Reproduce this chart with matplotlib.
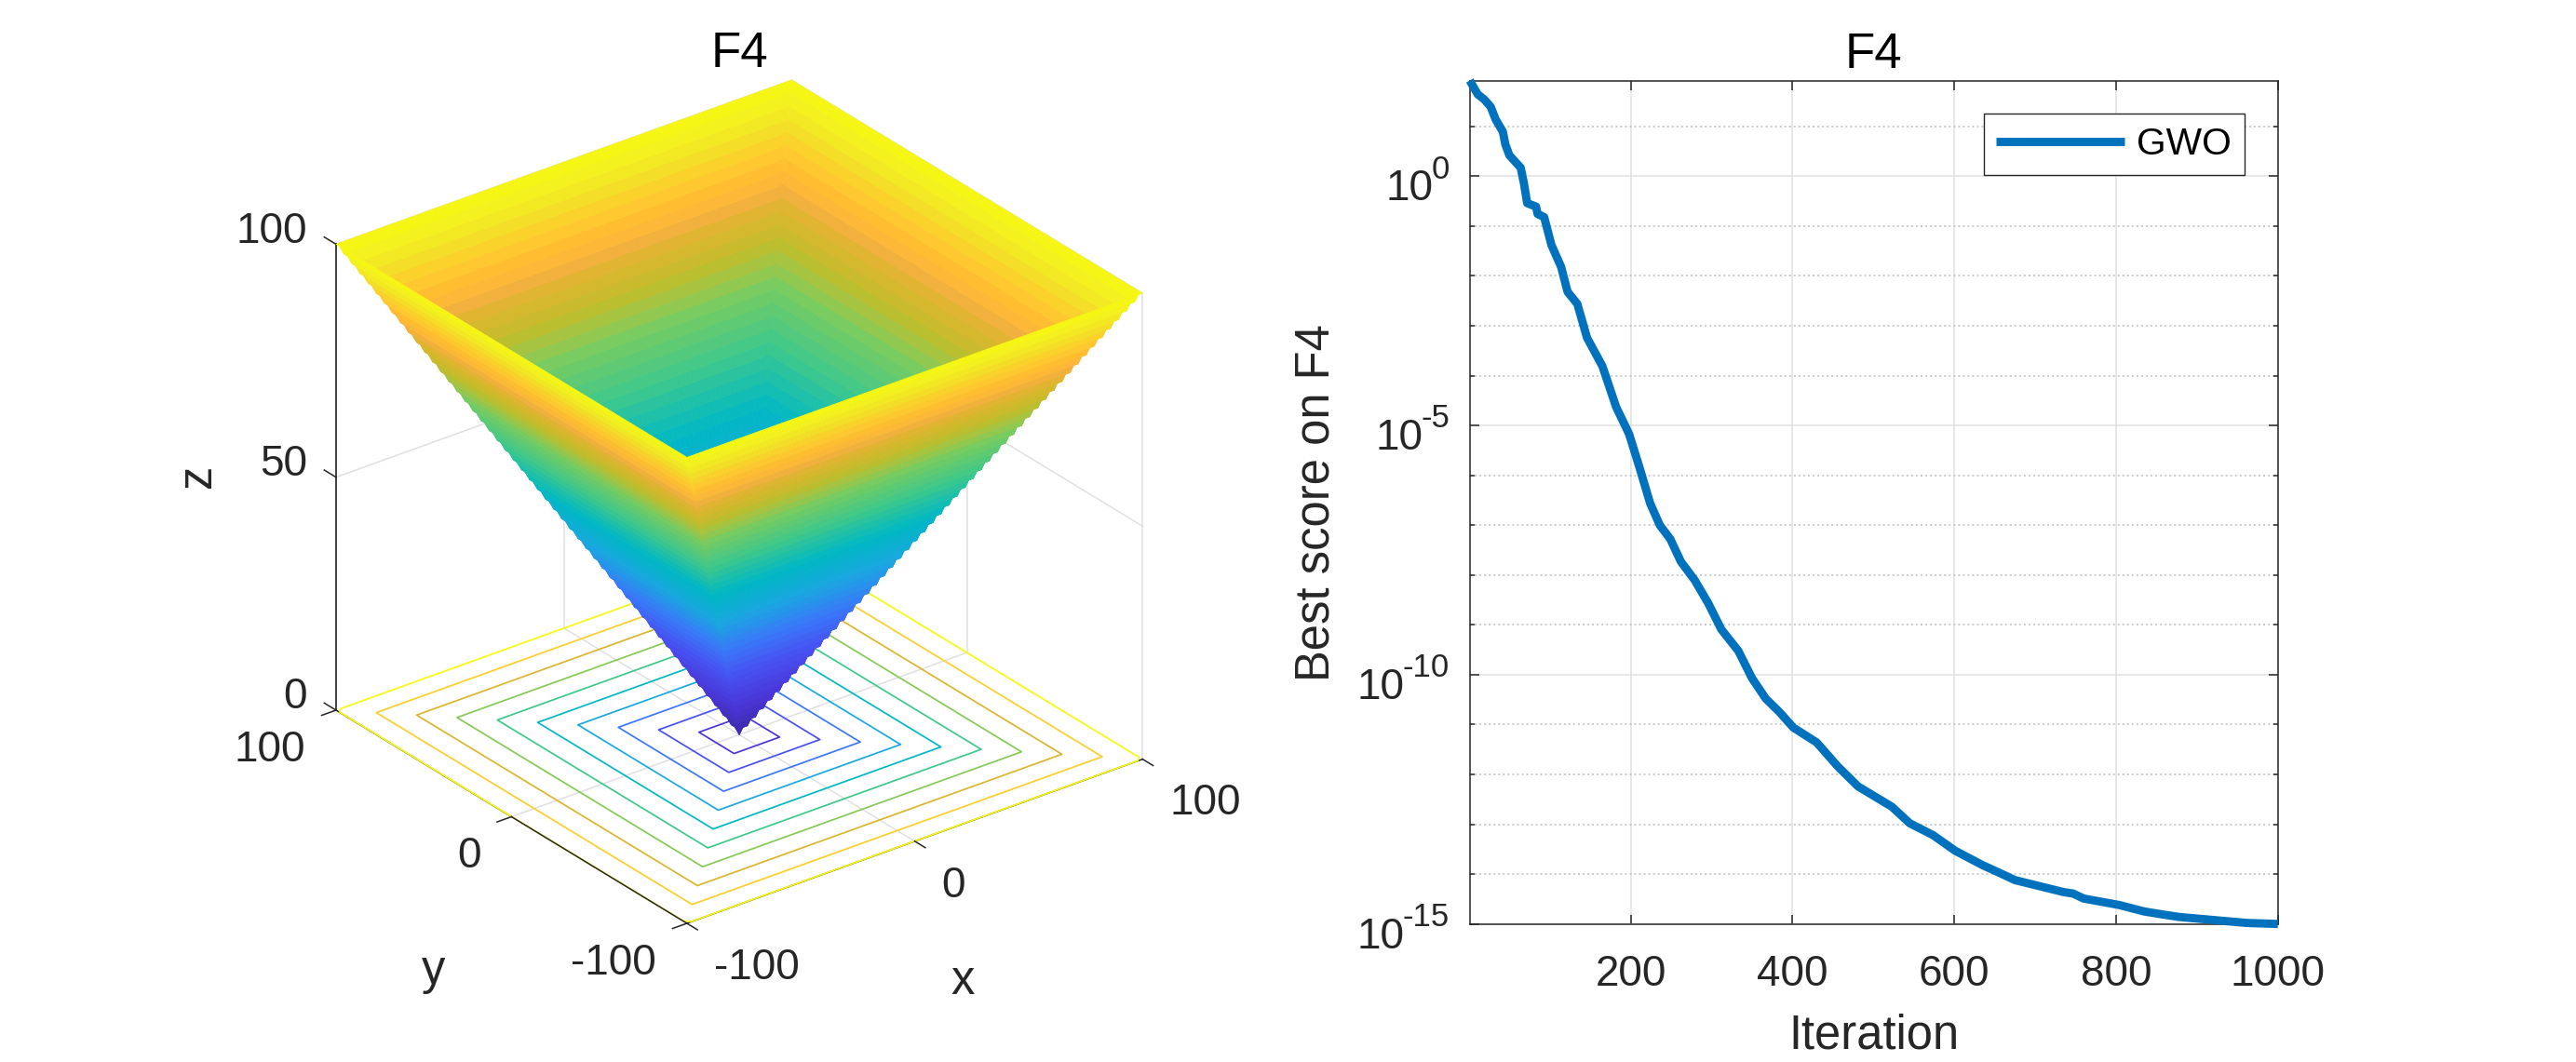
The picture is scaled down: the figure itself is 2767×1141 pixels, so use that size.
#!/usr/bin/env python

import numpy as np
import matplotlib
matplotlib.use("Agg")
import matplotlib.pyplot as plt
from matplotlib.colors import LinearSegmentedColormap
from mpl_toolkits.mplot3d import proj3d

W, H = 2767, 1141
DARK = "#262626"
GRID = "#e0e0e0"

# convergence curve
iterations = [1, 11, 19, 27, 33, 42, 45, 50, 64, 68, 72, 83, 85, 93, 102, 114, 122, 134,
	146, 165, 182, 198, 211, 224, 236, 249, 262, 279, 296, 312, 333, 350, 367, 384, 401,
	430, 456, 481, 523, 545, 574, 601, 635, 658, 675, 705, 735, 747, 760, 804, 835, 858,
	878, 927, 962, 1000]
log_scores = [1.92, 1.64, 1.54, 1.39, 1.14, 0.89, 0.64, 0.42, 0.17, -0.14, -0.54, -0.61, -0.76, -0.82, -1.38, -1.82, -2.32, -2.56,
	-3.24, -3.81, -4.63, -5.17, -5.85, -6.56, -7.0, -7.28, -7.73, -8.1, -8.57, -9.09, -9.52, -10.07, -10.48, -10.75, -11.06,
	-11.36, -11.84, -12.24, -12.65, -12.98, -13.22, -13.53, -13.82, -13.99, -14.12, -14.24, -14.36, -14.39, -14.49, -14.62, -14.75, -14.81,
	-14.86, -14.93, -14.98, -15.0]

x_ticks = [200, 400, 600, 800, 1000]
y_major_exponents = [-15, -10, -5, 0]
y_minor = [10.0 ** p for p in range(-14, 2) if p % 5 != 0]

# surface axes
surf_ticks = [-100, 0, 100]
z_ticks = [0, 50, 100]
contour_levels = [10, 20, 30, 40, 50, 60, 70, 80, 90, 99.9]

cmap_nodes = [0.0, 0.1, 0.2, 0.3, 0.4, 0.5, 0.6, 0.69, 0.71, 0.73, 0.75, 0.77, 0.79, 0.81, 0.83, 0.85, 0.87, 0.89, 0.91, 0.93, 0.95, 0.97, 0.99, 1.0]
cmap_colors = ["#3c2aa8", "#4a36d8", "#4850f0", "#3a78fa", "#1aa8e0", "#00b8c4",
	"#3dc88c", "#78cc60", "#90c850", "#a8c440", "#b8c030", "#c8bc2c", "#d4b82c", "#e0b430",
	"#f0b03c", "#fdb838", "#ffbe30", "#ffc830", "#fad22a", "#f5dc28", "#f3e824", "#f4f020",
	"#f6f616", "#f8f810"]


def px(x, y):
	return x / W, 1 - y / H


def draw_surface(fig):
	cm = LinearSegmentedColormap.from_list("parula_ish", list(zip(cmap_nodes, cmap_colors)))
	# mplot3d keeps its 2d limits at (-0.095, 0.09), so the box centre is off the axes centre
	side = 1010.8
	cx, cy = 794.1, 539
	origin = 0.095 / 0.185
	left = cx - side * origin
	bottom = cy + side * origin
	ax = fig.add_axes([left / W, 1 - bottom / H, side / W, side / H], projection="3d", computed_zorder=False)
	ax.set_proj_type("ortho")
	ax.set_box_aspect((1, 1, 0.917))
	ax.view_init(elev=27.9, azim=-127.6)
	ax.set_xlim(-100, 100, view_margin=0)
	ax.set_ylim(-100, 100, view_margin=0)
	ax.set_zlim(0, 100, view_margin=0)
	ax.set_axis_off()
	for axis in (ax.xaxis, ax.yaxis, ax.zaxis):
		axis.set_visible(False)

	def gray(xs, ys, zs, lw=1.1):
		ax.plot(xs, ys, zs, color=GRID, lw=lw, zorder=1)

	def label(x, y, z, s, ha):
		u, v, _ = proj3d.proj_transform(x, y, z, ax.get_proj())
		ax.text2D(u, v, s, transform=ax.transData, ha=ha, va="center", fontsize=33, color=DARK)

	# back grid, floor grid and box edges
	gray([0, 0], [-100, 100], [0, 0])
	gray([-100, 100], [0, 0], [0, 0])
	gray([-100, 100], [100, 100], [50, 50])
	gray([100, 100], [100, -100], [50, 50])
	gray([0, 0], [100, 100], [0, 100])
	gray([100, 100], [0, 0], [0, 100])
	gray([100, 100], [-100, -100], [0, 100])
	gray([-100, 100], [100, 100], [100, 100], 1.0)
	gray([100, 100], [100, -100], [100, 100], 1.0)

	# axis lines
	ax.plot([-100, -100], [100, 100], [0, 100], color="#404040", lw=1.4, zorder=1.5)
	ax.plot([-100, 100], [-100, -100], [0, 0], color=DARK, lw=1.1, zorder=1.5)
	ax.plot([-100, -100], [0, 100], [0, 0], color=DARK, lw=1.1, zorder=1.5)
	ax.plot([-100, -100], [-100, 0], [0, 0], color=DARK, lw=1.1, zorder=2.5)

	# ticks and their labels
	for v in surf_ticks:
		ax.plot([v, v], [-100, -106], [0, 0], color=DARK, lw=1.1, zorder=2.5)
		ax.plot([-100, -106.3], [v, v], [0, 0], color=DARK, lw=1.1, zorder=2.5)
		label(v, -115.4, -6, str(v), "left")
		label(-113.5, v, -6.2, str(v), "right")
	for v in z_ticks:
		ax.plot([-100, -100], [100, 106.7], [v, v], color=DARK, lw=1.1, zorder=2.5)
		label(-100, 116.3, v - 1, str(v), "right")

	# F4 is max(|x|, |y|) on the square, the 2 unit mesh gives the bands and the jagged edges
	grid = np.arange(-100, 102, 2)
	X, Y = np.meshgrid(grid, grid)
	Z = np.maximum(np.abs(X), np.abs(Y))
	ax.contour(X, Y, Z, levels=contour_levels, zdir="z", offset=0,
		cmap=cm, vmin=0, vmax=100, linewidths=1.25, zorder=2)
	surf = ax.plot_surface(X, Y, Z, cmap=cm, vmin=0, vmax=100, rstride=1, cstride=1,
		linewidth=0.5, antialiased=True, shade=False, zorder=3)
	surf.set_edgecolor("face")

	x, y = px(794, 71.7)
	fig.text(x, y, "F4", ha="center", va="baseline", fontsize=38, color="black")
	x, y = px(1034, 1055)
	fig.text(x, y, "x", ha="center", va="center", fontsize=36.5, color=DARK)
	x, y = px(466, 1044)
	fig.text(x, y, "y", ha="center", va="center", fontsize=36.5, color=DARK)
	x, y = px(212, 511)
	fig.text(x, y, "z", ha="center", va="center", rotation=90, fontsize=36.5, color=DARK)


def draw_log_labels(fig, ax):
	# the exponents are bigger and use a plain hyphen in the original, mathtext can't do that
	renderer = fig.canvas.get_renderer()
	trans = ("axes fraction", "data")
	for e in y_major_exponents:
		t = ax.annotate(str(e), xy=(0, 10.0 ** e), xycoords=trans, xytext=(-15.6, -1.7), textcoords="offset points",
			ha="right", va="baseline", fontsize=25, color=DARK, annotation_clip=False)
		width = t.get_window_extent(renderer).width * 72 / fig.dpi
		ax.annotate("10", xy=(0, 10.0 ** e), xycoords=trans, xytext=(-15.6 - width + 1.5, -18.7), textcoords="offset points",
			ha="right", va="baseline", fontsize=33, color=DARK, annotation_clip=False)


def draw_curve(fig):
	ax = fig.add_axes([1578.7 / W, (H - 992.7) / H, 868 / W, 906 / H])
	scores = [10.0 ** v for v in log_scores]
	ax.plot(iterations, scores, color="#0072bd", lw=6.4, label="GWO", clip_on=False, zorder=5,
		solid_joinstyle="round", solid_capstyle="butt")
	ax.set_yscale("log")
	ax.set_xlim(1, 1000)
	ax.set_ylim(1e-15, 82.4)
	ax.set_xticks(x_ticks)
	ax.set_yticks([10.0 ** e for e in y_major_exponents], [""] * len(y_major_exponents))
	ax.set_yticks(y_minor, minor=True)
	ax.set_yticklabels([], minor=True)
	ax.tick_params(axis="both", which="major", direction="in", top=True, right=True, length=7.2, width=1.1,
		color=DARK, labelcolor=DARK, labelsize=33, pad=23)
	ax.tick_params(axis="y", which="minor", direction="in", left=True, right=True, length=3.6, width=1.1, color=DARK)
	ax.grid(which="major", color=GRID, lw=1.1)
	ax.grid(which="minor", axis="y", color="#bdbdbd", lw=1.1, linestyle=(0, (1.3, 2)))
	ax.set_axisbelow(True)
	for s in ax.spines.values():
		s.set_linewidth(1.1)
		s.set_color(DARK)
	ax.set_title("F4", fontsize=38, color="black", pad=10)
	ax.set_xlabel("Iteration", fontsize=36.5, color=DARK, labelpad=14)
	ax.set_ylabel("Best score on F4", fontsize=36.5, color=DARK)
	ax.yaxis.set_label_coords(-0.161, 0.5)
	leg = ax.legend(loc="upper right", bbox_to_anchor=(0.9589, 0.9606), borderaxespad=0, fontsize=29.3,
		fancybox=False, framealpha=1, edgecolor=DARK, handlelength=3.39, handletextpad=0.32,
		borderpad=0.34, labelcolor="black")
	leg.get_frame().set_linewidth(1.0)
	draw_log_labels(fig, ax)


def main():
	plt.rcParams["font.family"] = ["Liberation Sans", "DejaVu Sans"]
	fig = plt.figure(figsize=(W / 100, H / 100), dpi=100)
	draw_surface(fig)
	draw_curve(fig)
	fig.savefig("out.png", dpi=100)
	plt.close(fig)


if __name__ == '__main__':
	main()
